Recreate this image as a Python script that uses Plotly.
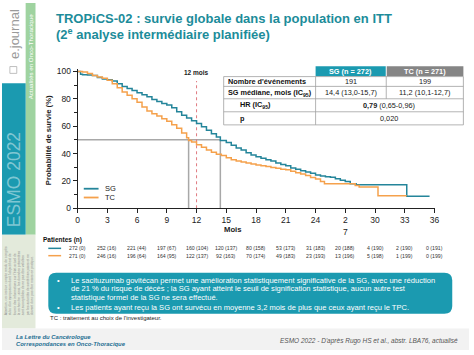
import plotly.graph_objects as go

# ---------------- data ----------------
sg_months = [0, 0.3, 0.5, 1.0, 1.5, 2.0, 2.5, 3.0, 3.5, 4.0, 4.5, 5.0, 5.5, 6.0, 6.5, 7.0, 7.5, 8.0,
             8.5, 9.0, 9.5, 10.0, 10.5, 11.0, 11.5, 12.0, 12.5, 13.0, 13.5, 14.0, 14.4, 15.0, 15.5,
             16.0, 16.5, 17.0, 17.5, 18.0, 18.5, 19.0, 19.5, 20.0, 20.5, 21.0, 21.5, 22.0, 22.5,
             23.0, 23.5, 24.0, 24.5, 25.0, 25.5, 26.0, 26.5, 27.0, 27.5, 28.1, 33.2, 35.5]
sg_surv = [100, 98, 97.6, 97.3, 97, 95.5, 94.5, 94, 93, 91, 89, 87.5, 86, 84.5, 83, 81.5, 79.5, 78,
           76.5, 75.5, 73.5, 70.5, 68, 66, 64, 62, 59.5, 57, 54.5, 52, 49.5, 48, 46,
           44, 42.5, 40.5, 39, 37.6, 36.5, 35.5, 34.5, 33, 32, 31, 29.5, 28.5, 27.4,
           26.5, 25.5, 24.3, 23.5, 23, 22.6, 21.5, 20.5, 19.5, 17.9, 17.1, 8.8, 8.8]

tc_months = [0, 0.5, 1.0, 1.5, 2.0, 2.5, 3.0, 3.5, 4.0, 4.5, 5.0, 5.5, 6.0, 6.5, 7.0, 7.5, 8.0, 8.5,
             9.0, 9.5, 10.0, 10.5, 11.0, 11.2, 11.5, 12.0, 12.5, 13.0, 13.5, 14.0, 14.5, 15.0, 15.5,
             16.0, 16.5, 17.0, 17.5, 18.0, 18.5, 19.0, 19.5, 20.0, 20.5, 21.0, 21.5, 22.0, 22.5,
             23.0, 23.5, 24.0, 24.5, 24.9, 28.0, 28.4, 30.3, 33.2]
tc_surv = [100, 99.5, 98.5, 97, 96, 95, 93.5, 91, 88, 85, 82.5, 80, 77.5, 74, 71, 69, 67.5, 65.5,
           63.5, 61, 58.5, 55, 51.5, 49.5, 48.5, 46.5, 44.5, 42.5, 41, 39.5, 38.5, 37, 35.5,
           34.5, 33.8, 33, 32.3, 31.7, 31, 30.5, 29.8, 29.2, 28.6, 28.1, 27, 26, 25,
           24, 22.5, 21.4, 19.5, 17.9, 16.7, 15.5, 9.1, 9.1]

x_ticks = [0, 3, 6, 9, 12, 15, 18, 21, 24, 27, 30, 33, 36]
x_tick_labels = ["0", "3", "6", "9", "12", "15", "18", "21", "24", "2<br>7", "30", "33", "36"]
y_ticks = [0, 20, 40, 60, 80, 100]

risk_months = [0, 3, 6, 9, 12, 15, 18, 21, 24, 27, 30, 33, 36]
risk_sg = ["272 (0)", "252 (16)", "221 (44)", "197 (67)", "160 (104)", "120 (137)", "80 (158)",
           "53 (173)", "31 (183)", "20 (188)", "4 (190)", "2 (190)", "0 (191)"]
risk_tc = ["271 (0)", "246 (16)", "196 (64)", "164 (95)", "122 (137)", "92 (163)", "70 (174)",
           "49 (183)", "23 (193)", "13 (196)", "5 (198)", "1 (199)", "0 (199)"]

median_sg = 14.4
median_tc = 11.2
landmark = 12

table_header = ["SG (n = 272)", "TC (n = 271)"]
table_rows = ["Nombre d'événements", "SG médiane, mois (IC<sub>95</sub>)", "HR (IC<sub>95</sub>)", "p"]
table_sg = ["191", "14,4 (13,0-15,7)"]
table_tc = ["199", "11,2 (10,1-12,7)"]
table_hr = "<b>0,79</b> (0,65-0,96)"
table_p = "0,020"

bullets = [
    ["Le sacituzumab govitécan permet une amélioration statistiquement significative de la SG, avec une réduction",
     "de 21 % du risque de décès ; la SG ayant atteint le seuil de signification statistique, aucun autre test",
     "statistique formel de la SG ne sera effectué."],
    ["Les patients ayant reçu la SG ont survécu en moyenne 3,2 mois de plus que ceux ayant reçu le TPC."],
]

# ---------------- style ----------------
W, H = 474, 355
FONT = "Arial, Liberation Sans, sans-serif"
TEAL = "#1b9ab0"
TITLE = "#1c8c9a"
C_SG = "#24859a"
C_TC = "#f5a14c"
GREY_LINE = "#a8a8a8"


def px(x):
    return x / W


def py(y):
    return 1 - y / H


shapes = []
annos = []


def ann(x, y, text, size, color="#222", xa="center", ya="middle", angle=0, xref="paper", align="center"):
    annos.append(dict(x=px(x) if xref == "paper" else x, y=py(y), xref=xref, yref="paper", text=text,
                      showarrow=False, xanchor=xa, yanchor=ya, textangle=angle, align=align,
                      font=dict(size=size, color=color, family=FONT)))


def rect(x0, y0, x1, y1, fill=None, lc=None, lw=0):
    d = dict(type="rect", xref="paper", yref="paper", x0=px(x0), x1=px(x1), y0=py(y1), y1=py(y0),
             line=dict(width=lw, color=lc) if lw else dict(width=0), layer="below")
    if fill:
        d["fillcolor"] = fill
    shapes.append(d)


def pline(x0, y0, x1, y1, color, width, layer="above"):
    shapes.append(dict(type="line", xref="paper", yref="paper", x0=px(x0), x1=px(x1), y0=py(y0), y1=py(y1),
                       line=dict(color=color, width=width), layer=layer))


fig = go.Figure()
fig.add_trace(go.Scatter(x=sg_months, y=sg_surv, mode="lines", line=dict(color=C_SG, width=1.5, shape="hv"),
                         name="SG", showlegend=False, hoverinfo="skip"))
fig.add_trace(go.Scatter(x=tc_months, y=tc_surv, mode="lines", line=dict(color=C_TC, width=1.5, shape="hv"),
                         name="TC", showlegend=False, hoverinfo="skip"))

# ---------------- sidebar & footer backgrounds ----------------
rect(24, 0, 34, 237, fill="#9fd3a0")
rect(0, 82, 24, 237, fill=TEAL)
rect(0, 237, 34, 333, fill="#e3eadb")
rect(0, 333, 474, 355, fill="#f2f2f2")

# median guides
shapes.append(dict(type="line", xref="x", yref="y", x0=0, x1=median_sg, y0=50, y1=50,
                   line=dict(color=GREY_LINE, width=1.5), layer="below"))
for m in (median_tc, median_sg):
    shapes.append(dict(type="line", xref="x", yref="y", x0=m, x1=m, y0=0, y1=50,
                       line=dict(color=GREY_LINE, width=1.5), layer="below"))
# 12-month line
shapes.append(dict(type="line", xref="x", yref="y", x0=landmark, x1=landmark, y0=0, y1=93,
                   line=dict(color="#e07a80", width=1, dash="dot"), layer="below"))
ann(landmark, 71, "<b>12 mois</b>", 6.5, xref="x")

# legend
for yy, col, lab in ((190, C_SG, "SG"), (199, C_TC, "TC")):
    pline(83, yy, 98, yy, col, 1.8)
    ann(103, yy, lab, 7.5, xa="left")

# axis titles
ann(48, 140, "<b>Probabilité de survie (%)</b>", 7.7, angle=-90)
ann(234, 232, "<b>Mois</b>", 7.7)

# title
ann(53, 16, "<b>TROPiCS-02 : survie globale dans la population en ITT</b>", 13, color=TITLE, xa="left")
ann(53, 32, "<b>(2<sup>e</sup> analyse intermédiaire planifiée)</b>", 13, color=TITLE, xa="left")

# ---------------- table ----------------
cx = [225, 318.3, 390, 468.3]
ry = [64.7, 75.3, 85.3, 98, 111.3, 124.7]
TB = "#a0a0a0"
rect(cx[1], ry[0], cx[2] - 0.5, ry[1], fill=TEAL)
rect(cx[2] + 0.5, ry[0], cx[3], ry[1], fill="#858585")
rect(cx[0], ry[1], cx[3], ry[5], fill="white", lc=TB, lw=0.8)
for r in ry[2:5]:
    pline(cx[0], r, cx[3], r, TB, 0.8)
pline(cx[1], ry[1], cx[1], ry[5], TB, 0.8)
pline(cx[2], ry[1], cx[2], ry[3], TB, 0.8)

TF = 7.3
for i, h in enumerate(table_header):
    ann((cx[1 + i] + cx[2 + i]) / 2, (ry[0] + ry[1]) / 2, "<b>" + h + "</b>", TF, color="white")
for i, lab in enumerate(table_rows):
    ann(227 if i < 2 else 240, (ry[1 + i] + ry[2 + i]) / 2, "<b>" + lab + "</b>", TF, color="#111", xa="left")
for i in range(2):
    yc = (ry[1 + i] + ry[2 + i]) / 2
    ann((cx[1] + cx[2]) / 2, yc, table_sg[i], TF)
    ann((cx[2] + cx[3]) / 2, yc, table_tc[i], TF)
ann((cx[1] + cx[3]) / 2, (ry[3] + ry[4]) / 2, table_hr, TF)
ann((cx[1] + cx[3]) / 2, (ry[4] + ry[5]) / 2, table_p, TF)

# ---------------- number at risk ----------------
ann(40, 242, "<b>Patientes (n)</b>", 6.5, color="#111", xa="left")
for yy, col, vals in ((251, C_SG, risk_sg), (258.5, C_TC, risk_tc)):
    pline(47, yy, 60, yy, col, 1.5)
    for m, v in zip(risk_months, vals):
        ann(m, yy, v, 5.2, color="#333", xref="x")

# ---------------- conclusion box ----------------
x0b, x1b, y0b, y1b, r = 47, 457, 276, 318, 8
path = (f"M {px(x0b + r)},{py(y0b)} L {px(x1b - r)},{py(y0b)} Q {px(x1b)},{py(y0b)} {px(x1b)},{py(y0b + r)} "
        f"L {px(x1b)},{py(y1b - r)} Q {px(x1b)},{py(y1b)} {px(x1b - r)},{py(y1b)} "
        f"L {px(x0b + r)},{py(y1b)} Q {px(x0b)},{py(y1b)} {px(x0b)},{py(y1b - r)} "
        f"L {px(x0b)},{py(y0b + r)} Q {px(x0b)},{py(y0b)} {px(x0b + r)},{py(y0b)} Z")
shapes.append(dict(type="path", xref="paper", yref="paper", path=path, fillcolor=TEAL, line=dict(width=0),
                   layer="below"))
line_y = [283.5, 292.5, 301.5, 311.5]
k = 0
for b in bullets:
    for j, ln in enumerate(b):
        if j == 0:
            ann(57, line_y[k], "•", 7.5, color="white")
        ann(68, line_y[k], ln, 7.55, color="white", xa="left")
        k += 1
ann(47, 322.5, "TC : traitement au choix de l'investigateur.", 6, color="#222", xa="left")

# ---------------- sidebar texts ----------------
ann(12, 32, "e.journal", 13, color="#9a9a9a", angle=-90)
rect(8, 65, 15, 72, lc="#b0b0b0", lw=0.8)
ann(29, 55, "Actualités en Onco-Thoracique", 6.2, color="white", angle=-90)
ann(12.5, 181, "ESMO 2022", 17.5, color="rgba(255,255,255,0.45)", angle=-90)
disclaimer = ("Attention, ceci est un compte rendu de congrès<br>et/ou d'un symposium dont l'objectif est de<br>"
              "fournir des informations sur l'état actuel de<br>la recherche ; ainsi, les données présentées<br>"
              "sont susceptibles de ne pas être validées<br>par les autorités de santé françaises et ne<br>"
              "doivent donc pas être mises en pratique.")
ann(17, 284, disclaimer, 3.3, color="#8a8a8a", angle=-90, align="left")

# ---------------- footer ----------------
ann(12, 341.5, "<b><i>La Lettre du Cancérologue</i></b>", 5.9, color="#1f6f92", xa="left")
ann(12, 349, "<b><i>Correspondances en Onco-Thoracique</i></b>", 5.9, color="#1f6f92", xa="left")
ann(465, 346, "<i>ESMO 2022 - D'après Rugo HS et al., abstr. LBA76, actualisé</i>", 6.5, color="#555", xa="right")

fig.update_layout(
    width=W, height=H, autosize=False,
    margin=dict(l=0, r=0, t=0, b=0),
    paper_bgcolor="white", plot_bgcolor="rgba(0,0,0,0)",
    shapes=shapes, annotations=annos,
    xaxis=dict(domain=[px(76.7), px(439)], range=[0, 36], tickvals=x_ticks, ticktext=x_tick_labels,
               showgrid=False, zeroline=False, showline=True, linecolor="#222", linewidth=1,
               ticks="outside", ticklen=4, tickcolor="#222", tickfont=dict(size=8.5, color="#222", family=FONT)),
    yaxis=dict(domain=[py(210), py(67.9)], range=[0, 101.5], tickvals=y_ticks,
               showgrid=False, zeroline=False, showline=True, linecolor="#222", linewidth=1,
               ticks="outside", ticklen=4, tickcolor="#222", tickfont=dict(size=8.5, color="#222", family=FONT),
               minor=dict(dtick=10, tick0=0, ticks="outside", ticklen=3, tickcolor="#222")),
    showlegend=False,
    hovermode=False,
)

fig.write_html("out.html", config={"displayModeBar": False, "staticPlot": True},
               post_script="document.body.style.margin='0';document.body.style.overflow='hidden';")
